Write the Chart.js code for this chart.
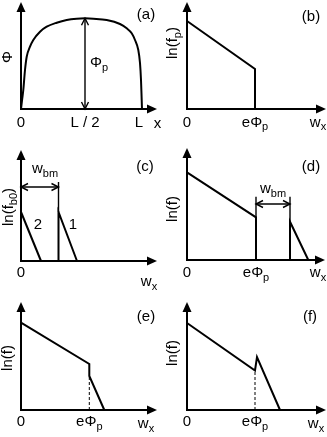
<!DOCTYPE html>
<html>
<head>
<meta charset="utf-8">
<script src="https://cdn.jsdelivr.net/npm/chart.js@4.4.1/dist/chart.umd.min.js"></script>
<style>
html, body { margin: 0; padding: 0; background: #fff; }
#page { position: relative; width: 327px; height: 437px; overflow: hidden; background: #fff; }
#page canvas { position: absolute; }
</style>
</head>
<body>
<div id="page">
  <canvas id="pa" width="163" height="145" style="left:0;top:0"></canvas>
  <canvas id="pb" width="164" height="145" style="left:163px;top:0"></canvas>
  <canvas id="pc" width="163" height="145" style="left:0;top:145px"></canvas>
  <canvas id="pd" width="164" height="145" style="left:163px;top:145px"></canvas>
  <canvas id="pe" width="163" height="147" style="left:0;top:290px"></canvas>
  <canvas id="pf" width="164" height="147" style="left:163px;top:290px"></canvas>
</div>
<script>
// values (schematic units, origin at the axes crossing)

// (a) potential profile across the gap
var phiX = [0, 1.2, 2.3, 4, 5.7, 9, 12.3, 19, 25.7, 35.7, 45.7, 55.7, 64, 72.3, 85.7, 99, 105.7, 110.7, 114, 117.3, 119, 120, 120.7, 121];
var phiY = [0, 10, 19, 39, 52.3, 62.3, 69, 77.3, 82.3, 86.3, 89, 90.3, 90.7, 90.3, 89, 85, 80.7, 75.7, 69, 59, 46, 29, 9, 0];
var phiPeakX = 64;

// (b) ln(fp)
var fpX = [0, 68, 68];
var fpY = [88, 40, 0];

// (c) ln(fb0), curves 2 and 1
var fb2X = [0, 20];
var fb2Y = [49, 0];
var fb1X = [37.5, 37.5, 56];
var fb1Y = [0, 49, 0];
var wbmC = [0, 37.5];

// (d) ln(f)
var fdX = [0, 69, 69];
var fdY = [87.7, 42.7, 0];
var fdShiftX = [103, 103, 121.3];
var fdShiftY = [0, 38.3, 0];
var wbmD = [69, 103];

// (e) ln(f)
var feX = [0, 68.3, 68.3, 83.3];
var feY = [87.3, 46, 34, 0];

// (f) ln(f)
var ffX = [0, 68, 70, 93];
var ffY = [87, 39.5, 53, 0];

var MAIN_FONT = '15px "Liberation Sans", Arial, sans-serif';
var SUB_FONT = '11px "Liberation Sans", Arial, sans-serif';

function pts(xs, ys) {
    return xs.map(function (x, i) { return {x: x, y: ys[i]}; });
}

function segs(str) {
    var out = [], re = /_\{([^}]*)\}/g, last = 0, m;
    while ((m = re.exec(str))) {
        if (m.index > last) out.push({t: str.slice(last, m.index), sub: false});
        out.push({t: m[1], sub: true});
        last = re.lastIndex;
    }
    if (last < str.length) out.push({t: str.slice(last), sub: false});
    return out;
}

function drawRich(ctx, str, x, y, align, rot) {
    var parts = segs(str), w = 0;
    parts.forEach(function (p) {
        ctx.font = p.sub ? SUB_FONT : MAIN_FONT;
        p.w = ctx.measureText(p.t).width;
        w += p.w;
    });
    ctx.save();
    ctx.translate(x, y);
    if (rot) ctx.rotate(rot);
    var cx = align === 'left' ? 0 : -w / 2;
    ctx.textBaseline = 'middle';
    ctx.textAlign = 'left';
    ctx.fillStyle = '#000';
    parts.forEach(function (p) {
        ctx.font = p.sub ? SUB_FONT : MAIN_FONT;
        ctx.fillText(p.t, cx, p.sub ? 4.5 : 0);
        cx += p.w;
    });
    ctx.restore();
}

function chevron(ctx, tx, ty, dx, dy) {
    // open arrow head with tip at (tx,ty) pointing along (dx,dy)
    var len = 7, hw = 3.5;
    var bx = tx - dx * len, by = ty - dy * len;
    ctx.beginPath();
    ctx.moveTo(bx - dy * hw, by + dx * hw);
    ctx.lineTo(tx, ty);
    ctx.lineTo(bx + dy * hw, by - dx * hw);
    ctx.stroke();
}

function panelPlugin(cfg) {
    return {
        id: 'panel',
        beforeDatasetsDraw: function (chart) {
            var ctx = chart.ctx, xs = chart.scales.x, ys = chart.scales.y;
            var x0 = xs.getPixelForValue(0), y0 = ys.getPixelForValue(0);
            var xt = xs.getPixelForValue(xs.max), yt = ys.getPixelForValue(ys.max);
            var al = 10, ah = 4.5;
            ctx.save();
            ctx.strokeStyle = '#000';
            ctx.fillStyle = '#000';
            ctx.lineWidth = 2;
            ctx.beginPath();
            ctx.moveTo(x0, y0 + 1);
            ctx.lineTo(x0, yt + al - 1);
            ctx.moveTo(x0 - 1, y0);
            ctx.lineTo(xt - al + 1, y0);
            ctx.stroke();
            ctx.beginPath();
            ctx.moveTo(x0, yt);
            ctx.lineTo(x0 - ah, yt + al);
            ctx.lineTo(x0 + ah, yt + al);
            ctx.closePath();
            ctx.fill();
            ctx.beginPath();
            ctx.moveTo(xt, y0);
            ctx.lineTo(xt - al, y0 - ah);
            ctx.lineTo(xt - al, y0 + ah);
            ctx.closePath();
            ctx.fill();
            ctx.restore();
        },
        afterDatasetsDraw: function (chart) {
            var ctx = chart.ctx, xs = chart.scales.x, ys = chart.scales.y;
            var X = function (v) { return xs.getPixelForValue(v); };
            var Y = function (v) { return ys.getPixelForValue(v); };
            ctx.save();
            ctx.strokeStyle = '#000';
            ctx.lineWidth = 1.4;
            (cfg.heads || []).forEach(function (h) {
                chevron(ctx, X(h[0]), Y(h[1]), h[2], h[3]);
            });
            (cfg.labels || []).forEach(function (l) {
                drawRich(ctx, l.t, X(l.x), Y(l.y), l.align, l.rot ? -Math.PI / 2 : 0);
            });
            ctx.restore();
        }
    };
}

function makeChart(id, cfg) {
    new Chart(document.getElementById(id), {
        type: 'scatter',
        data: {
            datasets: cfg.series.map(function (s) {
                return {
                    data: pts(s.x, s.y),
                    showLine: true,
                    borderColor: '#000',
                    backgroundColor: '#000',
                    borderWidth: s.width || 2,
                    borderDash: s.dash || [],
                    cubicInterpolationMode: s.smooth ? 'monotone' : 'default',
                    tension: 0,
                    pointRadius: 0,
                    pointHoverRadius: 0,
                    clip: false
                };
            })
        },
        options: {
            responsive: false,
            animation: false,
            events: [],
            layout: {padding: cfg.pad},
            scales: {
                x: {type: 'linear', min: 0, max: cfg.xMax, display: false},
                y: {type: 'linear', min: 0, max: cfg.yMax, display: false}
            },
            plugins: {legend: {display: false}, tooltip: {enabled: false}}
        },
        plugins: [panelPlugin(cfg)]
    });
}

// (a)
makeChart('pa', {
    pad: {left: 21, top: 2, right: 6, bottom: 36},
    xMax: 136, yMax: 107,
    series: [
        {x: phiX, y: phiY, smooth: true},
        {x: [phiPeakX, phiPeakX], y: [0, 90.7], width: 1.4}
    ],
    heads: [[phiPeakX, 90.7, 0, -1], [phiPeakX, 0, 0, 1]],
    labels: [
        {t: '0', x: 0, y: -14},
        {t: 'L / 2', x: 64, y: -14},
        {t: 'L', x: 118, y: -14},
        {t: 'x', x: 136.5, y: -15},
        {t: '(a)', x: 125, y: 94},
        {t: 'Φ_{p}', x: 69, y: 46, align: 'left'},
        {t: 'Φ', x: -13, y: 52, rot: true}
    ]
});

// (b)
makeChart('pb', {
    pad: {left: 24, top: 2, right: 1, bottom: 36},
    xMax: 139, yMax: 107,
    series: [{x: fpX, y: fpY}],
    labels: [
        {t: '0', x: 0, y: -13.5},
        {t: 'eΦ_{p}', x: 68, y: -13.5},
        {t: 'w_{x}', x: 131, y: -13.5},
        {t: '(b)', x: 124, y: 92},
        {t: 'ln(f_{p})', x: -14, y: 66, rot: true}
    ]
});

// (c)
makeChart('pc', {
    pad: {left: 21, top: 5, right: 6, bottom: 29},
    xMax: 136, yMax: 111,
    series: [
        {x: fb2X, y: fb2Y},
        {x: fb1X, y: fb1Y},
        {x: [wbmC[1], wbmC[1]], y: [49, 79], width: 1.4},
        {x: wbmC, y: [74, 74], width: 1.4}
    ],
    heads: [[wbmC[0], 74, -1, 0], [wbmC[1], 74, 1, 0]],
    labels: [
        {t: '0', x: 0, y: -12},
        {t: 'w_{x}', x: 128, y: -21},
        {t: '(c)', x: 124, y: 94},
        {t: '2', x: 17, y: 36},
        {t: '1', x: 52, y: 36},
        {t: 'w_{bm}', x: 11, y: 92, align: 'left'},
        {t: 'ln(f_{b0})', x: -12, y: 54, rot: true}
    ]
});

// (d)
makeChart('pd', {
    pad: {left: 24, top: 3, right: 2, bottom: 30},
    xMax: 138, yMax: 112,
    series: [
        {x: fdX, y: fdY},
        {x: fdShiftX, y: fdShiftY},
        {x: [wbmD[0], wbmD[0]], y: [42.7, 63.3], width: 1.4},
        {x: [wbmD[1], wbmD[1]], y: [38.3, 63.3], width: 1.4},
        {x: wbmD, y: [56, 56], width: 1.4}
    ],
    heads: [[wbmD[0], 56, -1, 0], [wbmD[1], 56, 1, 0]],
    labels: [
        {t: '0', x: 0, y: -13},
        {t: 'eΦ_{p}', x: 69, y: -13},
        {t: 'w_{x}', x: 131, y: -13},
        {t: '(d)', x: 124, y: 93},
        {t: 'w_{bm}', x: 73, y: 71, align: 'left'},
        {t: 'ln(f)', x: -14, y: 51, rot: true}
    ]
});

// (e)
makeChart('pe', {
    pad: {left: 21, top: 12, right: 6, bottom: 27},
    xMax: 136, yMax: 108,
    series: [
        {x: feX, y: feY},
        {x: [feX[2], feX[2]], y: [0, feY[2]], width: 1, dash: [3, 2]}
    ],
    labels: [
        {t: '0', x: 0, y: -12},
        {t: 'eΦ_{p}', x: 68.3, y: -12},
        {t: 'w_{x}', x: 125, y: -14},
        {t: '(e)', x: 125, y: 93},
        {t: 'ln(f)', x: -13, y: 52, rot: true}
    ]
});

// (f)
makeChart('pf', {
    pad: {left: 24, top: 12, right: 1, bottom: 27},
    xMax: 139, yMax: 108,
    series: [
        {x: ffX, y: ffY},
        {x: [ffX[1], ffX[1]], y: [0, ffY[1]], width: 1, dash: [3, 2]}
    ],
    labels: [
        {t: '0', x: 0, y: -12},
        {t: 'eΦ_{p}', x: 68, y: -12},
        {t: 'w_{x}', x: 129, y: -14},
        {t: '(f)', x: 123, y: 93},
        {t: 'ln(f)', x: -14, y: 57, rot: true}
    ]
});
</script>
</body>
</html>
